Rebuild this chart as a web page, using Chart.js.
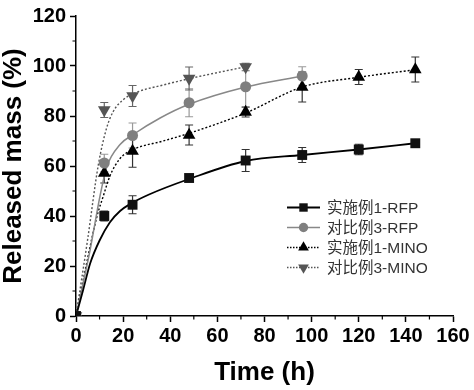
<!DOCTYPE html>
<html>
<head>
<meta charset="utf-8">
<script src="https://cdn.jsdelivr.net/npm/chart.js@4.4.1/dist/chart.umd.min.js"></script>
<style>
  html, body { margin: 0; padding: 0; background: #fff; }
  #wrap { width: 474px; height: 390px; }
</style>
</head>
<body>
<div id="wrap"><canvas id="grafico" width="474" height="390"></canvas></div>
<script>
// series names (legend)
const seriesNames = ['实施例1-RFP', '对比例3-RFP', '实施例1-MINO', '对比例3-MINO'];

// measured points + error bars
const timeRFP1 = [0, 12, 24, 48, 72, 96, 120, 144];
const massRFP1 = [0, 40, 44.5, 55.2, 62.2, 64.4, 66.6, 69.1];
const errRFP1  = [0, 2, 3.6, 1.2, 4.4, 3, 2.1, 1.5];

const timeRFP3 = [0, 12, 24, 48, 72, 96];
const massRFP3 = [0, 61.2, 72.2, 85.3, 91.7, 96];
const errRFP3  = [0, 3.5, 5, 5.6, 8.2, 3.7];

const timeMINO1 = [0, 12, 24, 48, 72, 96, 120, 144];
const massMINO1 = [0, 57.2, 66, 72.4, 81.6, 91.6, 95.6, 98.6];
const errMINO1  = [0, 4, 6.5, 4, 2, 6, 3, 5];

const timeMINO3 = [0, 12, 24, 48, 72];
const massMINO3 = [0, 82.4, 88, 95, 99.6];
const errMINO3  = [0, 3, 4.2, 4.6, 1.5];

// fitted curves
const fitTimeRFP1 = [0, 3, 6, 10, 14.4, 18.7, 23, 31, 48, 72, 96, 120, 144];
const fitRFP1     = [0, 10.3, 21, 30.2, 37.5, 42, 44.8, 48.6, 54.8, 62, 64.4, 66.6, 69.1];

const fitTimeRFP3 = [0, 5.9, 10.2, 13, 18.7, 24.3, 35.7, 47.7, 72, 96];
const fitRFP3     = [0, 26, 48, 59.5, 68.6, 72.6, 79.2, 84.6, 91.6, 96];

const fitTimeMINO1 = [0, 8.8, 11.6, 14.4, 18.7, 24.3, 37, 48.4, 72, 96, 120, 144];
const fitMINO1     = [0, 39.5, 48, 56, 63, 66.6, 70, 73.2, 81.2, 91.6, 95.5, 98.5];

const fitTimeMINO3 = [0, 5, 9.5, 13, 15.8, 20, 25.8, 37, 48.4, 72];
const fitMINO3     = [0, 31, 60.6, 75.2, 81.8, 86.5, 89.5, 92.4, 95, 99.7];

// axis ticks
const xTicks = [0, 20, 40, 60, 80, 100, 120, 140, 160];
const yTicks = [0, 20, 40, 60, 80, 100, 120];

const fontLatin = "'Liberation Sans', Arial, sans-serif";
const fontLegend = "'Liberation Sans', 'Noto Sans CJK SC', sans-serif";

const toXY = (xs, ys) => xs.map((x, i) => ({ x: x, y: ys[i] }));

function markerSet(name, xs, ys, errs, style, rot, radius, color, errColor) {
    return {
        label: name,
        data: toXY(xs, ys),
        errors: errs,
        errColor: errColor,
        showLine: false,
        pointStyle: style,
        rotation: rot,
        pointRadius: radius,
        backgroundColor: color,
        borderColor: color,
        borderWidth: 0,
        order: 1
    };
}

function fitSet(xs, ys, color, width, dash) {
    return {
        label: '',
        isFit: true,
        data: toXY(xs, ys),
        showLine: true,
        pointRadius: 0,
        borderColor: color,
        borderWidth: width,
        borderDash: dash,
        cubicInterpolationMode: 'monotone',
        fill: false,
        order: 2
    };
}

// legend line styles
const legendLine = [
    { color: '#000', width: 1.8, dash: [] },
    { color: '#888', width: 1.5, dash: [] },
    { color: '#000', width: 1.3, dash: [1.5, 1.5] },
    { color: '#555', width: 1.3, dash: [1.5, 1.5] }
];

// error bars, minor ticks and legend drawn on top of the chart
const extras = {
    id: 'extras',
    beforeDatasetsDraw(chart) {
        const ctx = chart.ctx;
        const xs = chart.scales.x, ys = chart.scales.y;
        ctx.save();
        chart.data.datasets.forEach(ds => {
            if (!ds.errors) return;
            ctx.strokeStyle = ds.errColor;
            ctx.lineWidth = 1.2;
            ds.data.forEach((p, i) => {
                const e = ds.errors[i];
                if (!e) return;
                const px = xs.getPixelForValue(p.x);
                const top = ys.getPixelForValue(p.y + e);
                const bot = ys.getPixelForValue(p.y - e);
                ctx.beginPath();
                ctx.moveTo(px, top); ctx.lineTo(px, bot);
                ctx.moveTo(px - 4, top); ctx.lineTo(px + 4, top);
                ctx.moveTo(px - 4, bot); ctx.lineTo(px + 4, bot);
                ctx.stroke();
            });
        });
        ctx.restore();
    },
    afterDraw(chart) {
        const ctx = chart.ctx;
        const xs = chart.scales.x, ys = chart.scales.y;
        const area = chart.chartArea;
        ctx.save();
        // minor ticks
        ctx.strokeStyle = '#000';
        ctx.lineWidth = 1.2;
        ctx.beginPath();
        for (let i = 0; i < xTicks.length - 1; i++) {
            const px = xs.getPixelForValue((xTicks[i] + xTicks[i + 1]) / 2);
            ctx.moveTo(px, area.bottom); ctx.lineTo(px, area.bottom + 3.5);
        }
        for (let i = 0; i < yTicks.length - 1; i++) {
            const py = ys.getPixelForValue((yTicks[i] + yTicks[i + 1]) / 2);
            ctx.moveTo(area.left, py); ctx.lineTo(area.left - 3.5, py);
        }
        ctx.stroke();

        // legend
        const markers = chart.data.datasets.filter(ds => !ds.isFit);
        const x0 = 287, x1 = 320, tx = 327;
        markers.forEach((ds, i) => {
            const y = 207.5 + i * 20;
            const st = legendLine[i];
            ctx.strokeStyle = st.color;
            ctx.lineWidth = st.width;
            ctx.setLineDash(st.dash);
            ctx.beginPath();
            ctx.moveTo(x0, y); ctx.lineTo(x1, y);
            ctx.stroke();
            ctx.setLineDash([]);
            ctx.fillStyle = ds.backgroundColor;
            ctx.strokeStyle = ds.backgroundColor;
            Chart.helpers.drawPoint(ctx, {
                pointStyle: ds.pointStyle,
                rotation: ds.rotation,
                radius: ds.pointRadius * 0.85,
                borderWidth: 0
            }, (x0 + x1) / 2, y);
            ctx.fillStyle = '#333';
            ctx.font = '15.5px ' + fontLegend;
            ctx.textBaseline = 'middle';
            ctx.textAlign = 'left';
            ctx.fillText(ds.label, tx, y + 1);
        });
        ctx.restore();
    }
};

new Chart(document.getElementById('grafico'), {
    type: 'scatter',
    data: {
        datasets: [
            markerSet(seriesNames[0], timeRFP1, massRFP1, errRFP1, 'rect', 0, 7, '#111', '#333'),
            markerSet(seriesNames[1], timeRFP3, massRFP3, errRFP3, 'circle', 0, 5.5, '#7f7f7f', '#999'),
            markerSet(seriesNames[2], timeMINO1, massMINO1, errMINO1, 'triangle', 0, 7.3, '#000', '#333'),
            markerSet(seriesNames[3], timeMINO3, massMINO3, errMINO3, 'triangle', 180, 7.3, '#555', '#666'),
            fitSet(fitTimeRFP1, fitRFP1, '#000', 1.8, []),
            fitSet(fitTimeRFP3, fitRFP3, '#888', 1.5, []),
            fitSet(fitTimeMINO1, fitMINO1, '#000', 1.4, [2, 2]),
            fitSet(fitTimeMINO3, fitMINO3, '#555', 1.4, [2, 2])
        ]
    },
    options: {
        responsive: false,
        animation: false,
        layout: { padding: { left: 0, right: 21, top: 14, bottom: 0 } },
        plugins: {
            legend: { display: false },
            tooltip: { enabled: false }
        },
        scales: {
            x: {
                type: 'linear',
                min: 0,
                max: 160,
                afterFit: s => { s.height = 74; },
                afterBuildTicks: s => { s.ticks = xTicks.map(v => ({ value: v })); },
                ticks: {
                    color: '#000',
                    padding: 2,
                    font: { family: fontLatin, size: 20, weight: 'bold' }
                },
                grid: { drawOnChartArea: false, tickLength: 6, tickWidth: 1.5, tickColor: '#000' },
                border: { color: '#000', width: 1.5 },
                title: {
                    display: true,
                    text: 'Time (h)',
                    color: '#000',
                    padding: { top: 0, bottom: 2 },
                    font: { family: fontLatin, size: 26, weight: 'bold' }
                }
            },
            y: {
                type: 'linear',
                min: 0,
                max: 120,
                afterFit: s => { s.width = 76; },
                afterBuildTicks: s => { s.ticks = yTicks.map(v => ({ value: v })); },
                ticks: {
                    color: '#000',
                    padding: 4,
                    font: { family: fontLatin, size: 20, weight: 'bold' }
                },
                grid: { drawOnChartArea: false, tickLength: 6, tickWidth: 1.5, tickColor: '#000' },
                border: { color: '#000', width: 1.5 },
                title: {
                    display: true,
                    text: 'Released mass (%)',
                    color: '#000',
                    padding: { top: 0, bottom: 0 },
                    font: { family: fontLatin, size: 26, weight: 'bold', lineHeight: 1.1 }
                }
            }
        }
    },
    plugins: [extras]
});
</script>
</body>
</html>
